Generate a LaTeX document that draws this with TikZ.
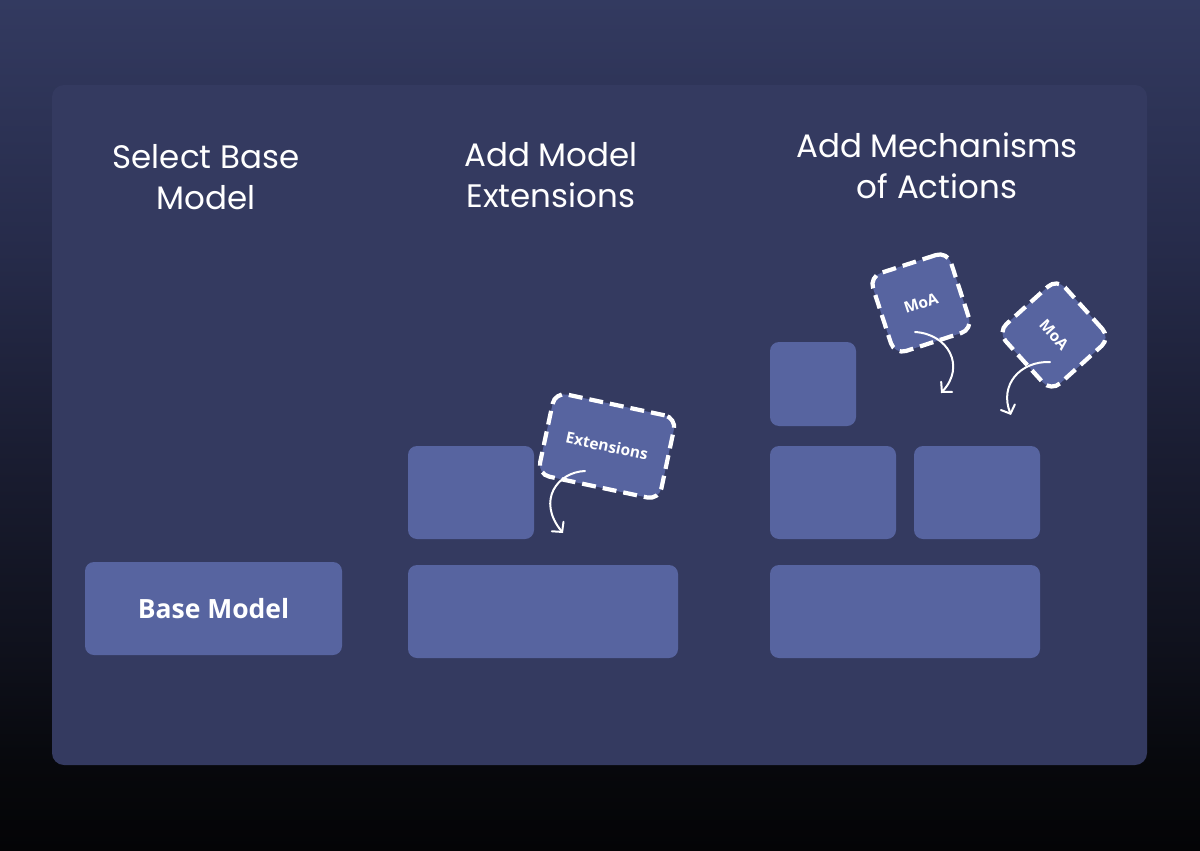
\documentclass[tikz,border=0pt]{standalone}
\usepackage{fontspec}
\setmainfont{Poppins}
\newfontfamily\labelfont{Open Sans}
\usetikzlibrary{arrows.meta}
\definecolor{bgtop}{HTML}{333A60}
\definecolor{bgA}{HTML}{262B4A}
\definecolor{bgB}{HTML}{1A1D32}
\definecolor{bgC}{HTML}{0F111C}
\definecolor{bgD}{HTML}{07080C}
\definecolor{bgbot}{HTML}{040406}
\definecolor{panelc}{HTML}{343A60}
\definecolor{boxc}{HTML}{5764A0}
\pgfdeclareverticalshading{bgshade}{100bp}{color(0bp)=(bgbot); color(25bp)=(bgbot); color(30bp)=(bgD); color(36.8bp)=(bgC); color(48.6bp)=(bgB); color(60.3bp)=(bgA); color(75bp)=(bgtop); color(100bp)=(bgtop)}
\tikzset{
  block/.style={fill=boxc, rounded corners=9pt, inner sep=0pt},
  dashbox/.style={fill=boxc, draw=white, line width=4.2pt, dash pattern=on 14pt off 7pt, rounded corners=12pt, inner sep=0pt, text=white, font=\labelfont\bfseries\fontsize{15.5}{18}\selectfont},
  heading/.style={text=white, align=center, font=\fontsize{32.5}{41}\selectfont},
  curlarrow/.style={white, line width=2pt, line cap=round, -{Straight Barb[length=7pt,width=15pt,line cap=round]}}
}
\begin{document}
\begin{tikzpicture}[x=1pt,y=-1pt]
\useasboundingbox (0,0) rectangle (1200,851);
\fill[shading=bgshade] (0,0) rectangle (1200,851);
\fill[panelc, rounded corners=12pt] (52,85) rectangle (1147,765);

% headings
\node[heading] (h1) at (206,177) {Select Base\\Model};
\node[heading] (h2) at (551,175) {Add Model\\Extensions};
\node[heading] (h3) at (937,166) {Add Mechanisms\\of Actions};

% column 1
\node[block, minimum width=257pt, minimum height=93pt, text=white, font=\labelfont\bfseries\fontsize{26.5}{30}\selectfont] (base) at (213.5,608.5) {Base Model};

% column 2
\node[block, minimum width=270pt, minimum height=93pt] (c2bot) at (543,611.5) {};
\node[block, minimum width=126pt, minimum height=93pt] (c2top) at (471,492.5) {};
\node[dashbox, minimum width=124pt, minimum height=84pt, rotate=-12] (ext) at (607,446) {Extensions};
\coordinate (e1s) at (585,471);
\coordinate (e1e) at (563,533);
\draw[curlarrow] (e1s) .. controls (558,472) and (536,500) .. (e1e);

% column 3
\node[block, minimum width=270pt, minimum height=93pt] (c3bot) at (905,611.5) {};
\node[block, minimum width=126pt, minimum height=93pt] (c3l) at (833,492.5) {};
\node[block, minimum width=126pt, minimum height=93pt] (c3r) at (977,492.5) {};
\node[block, minimum width=86pt, minimum height=84pt] (c3s) at (813,384) {};
\node[dashbox, minimum width=82pt, minimum height=82pt, rotate=18] (moa1) at (921,303) {MoA};
\node[dashbox, minimum width=80pt, minimum height=80pt, rotate=-48] (moa2) at (1054,335) {MoA};
\coordinate (m1s) at (915,332);
\coordinate (m1e) at (941,393);
\draw[curlarrow] (m1s) .. controls (948,334) and (966,366) .. (m1e);
\coordinate (m2s) at (1050,362);
\coordinate (m2e) at (1011,415);
\draw[curlarrow] (m2s) .. controls (1020,361) and (999,385) .. (m2e);
\end{tikzpicture}
\end{document}
